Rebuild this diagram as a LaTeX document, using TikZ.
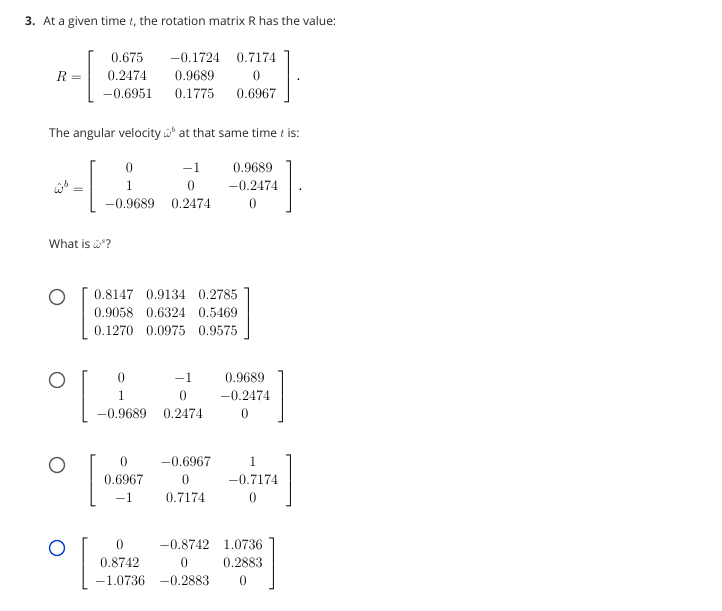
\documentclass[tikz,border=0pt]{standalone}
\usepackage{amsmath}
\usepackage{fontspec}
\setmainfont{Open Sans}
\DeclareMathSizes{12}{12}{8}{6}
\DeclareMathSizes{14.4}{14.4}{10}{7}
\begin{document}
\begin{tikzpicture}[x=1pt,y=-1pt,
  txt/.style={anchor=base west,inner sep=0pt,font=\fontsize{12}{15}\selectfont,text=black!85},
  mat/.style={anchor=west,inner sep=0pt,font=\fontsize{14.4}{18}\selectfont},
  radio/.style={circle,draw=black!65,line width=1.3pt,minimum size=15pt,inner sep=0pt},
  radiosel/.style={radio,draw=blue!70!cyan!80!black}]
\useasboundingbox (0,0) rectangle (722,610);
\newcommand{\mm}[1]{\setlength{\arraycolsep}{8.5pt}$\left[\begin{array}{ccc}#1\end{array}\right]$}
\node[txt] (t1) at (25,26) {\textbf{3.}\hspace{8pt}At a given time $t$, the rotation matrix R has the value:};
\node[anchor=east,inner sep=0pt,font=\fontsize{14.4}{18}\selectfont] (Rl) at (82,77) {$R=$};
\node[mat] (R) at (84,77) {\mm{0.675 & -0.1724 & 0.7174\\ 0.2474 & 0.9689 & 0\\ -0.6951 & 0.1775 & 0.6967}\,.};
\node[txt] (t2) at (49,137) {The angular velocity $\hat\omega^b$ at that same time $t$ is:};
\node[anchor=east,inner sep=0pt,font=\fontsize{14.4}{18}\selectfont] (wl) at (84,187) {$\hat\omega^b=$};
\node[mat] (W) at (86,187) {\mm{0 & -1 & 0.9689\\ 1 & 0 & -0.2474\\ -0.9689 & 0.2474 & 0}\,.};
\node[txt] (t3) at (49,248) {What is $\hat\omega^s$?};
\node[radio] (r1) at (57,297) {};
\node[mat] (a1) at (78,314) {\setlength{\arraycolsep}{6.5pt}$\left[\begin{array}{ccc}0.8147 & 0.9134 & 0.2785\\ 0.9058 & 0.6324 & 0.5469\\ 0.1270 & 0.0975 & 0.9575\end{array}\right]$};
\node[radio] (r2) at (57,380) {};
\node[mat] (a2) at (78,397) {\mm{0 & -1 & 0.9689\\ 1 & 0 & -0.2474\\ -0.9689 & 0.2474 & 0}};
\node[radio] (r3) at (57,465) {};
\node[mat] (a3) at (86,481) {\mm{0 & -0.6967 & 1\\ 0.6967 & 0 & -0.7174\\ -1 & 0.7174 & 0}};
\node[radiosel] (r4) at (57,548) {};
\node[mat] (a4) at (78,564) {\setlength{\arraycolsep}{7pt}$\left[\begin{array}{ccc}0 & -0.8742 & 1.0736\\ 0.8742 & 0 & 0.2883\\ -1.0736 & -0.2883 & 0\end{array}\right]$};
\end{tikzpicture}
\end{document}
